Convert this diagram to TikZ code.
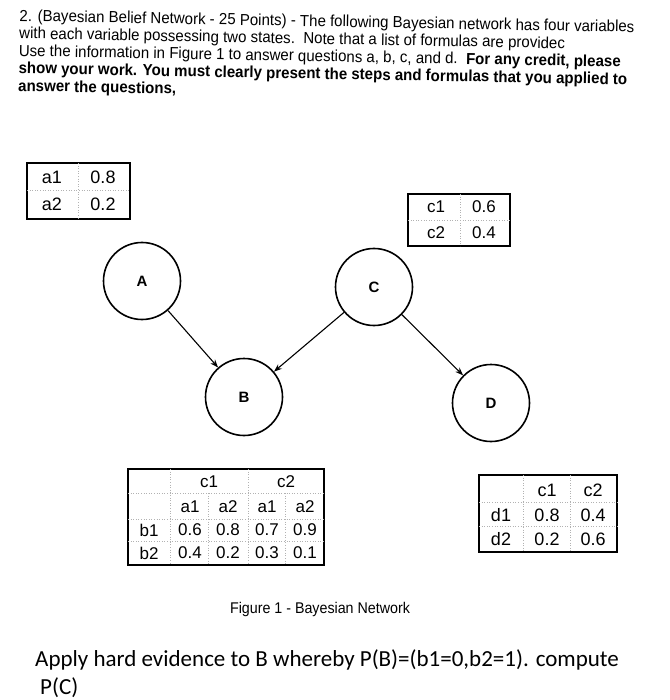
\documentclass[tikz,border=0pt]{standalone}
\usepackage{fontspec}
\setmainfont{Liberation Sans}
\newfontfamily\headfont[FakeStretch=0.94]{Liberation Sans}
\newfontfamily\capfont[FakeStretch=0.92]{Liberation Sans}
\newfontfamily\notefont{Carlito}
\usetikzlibrary{arrows.meta}

\tikzset{
  bnnode/.style={circle, draw, line width=1.6pt, minimum size=77pt, inner sep=0pt,
    font=\bfseries\fontsize{15}{15}\selectfont},
  bnarrow/.style={-{Stealth[length=8pt, width=6pt]}, line width=1.1pt},
  cptbox/.style={draw, line width=1.2pt},
  cptgrid/.style={gray!60, dotted, line width=0.6pt},
  cpt/.style={inner sep=0pt, font=\fontsize{17}{17}\selectfont},
  bigcpt/.style={cpt, font=\fontsize{18}{18}\selectfont},
  headtext/.style={anchor=base west, inner sep=0pt, rotate=-1.05, align=left,
    font=\headfont\fontsize{16}{17.5}\selectfont},
  noteline/.style={anchor=base west, inner sep=0pt, font=\notefont\fontsize{23}{23}\selectfont},
}

\begin{document}
\begin{tikzpicture}[x=1pt, y=-1pt]

\useasboundingbox (0,0) rectangle (669,700);

% Question text (base anchor sits on the last line)
\node[headtext] (head) at (18,91) {2. (Bayesian Belief Network - 25 Points) - The following Bayesian network has four variables\\
  with each variable possessing two states.\ \ Note that a list of formulas are providec\\
  Use the information in Figure 1 to answer questions a, b, c, and d.\ \ \textbf{For any credit, please}\\
  \textbf{show your work. You must clearly present the steps and formulas that you applied to}\\
  \textbf{answer the questions,}};

% Network nodes
\node[bnnode] (A) at (142,281) {A};
\node[bnnode] (B) at (244,397) {B};
\node[bnnode] (C) at (374,287) {C};
\node[bnnode] (D) at (491,403) {D};

% Edges
\draw[bnarrow] (A) -- (B);
\draw[bnarrow] (C) -- (B);
\draw[bnarrow] (C) -- (D);

% Table for A
\draw[cptbox] (27,163) rectangle (130,219);
\draw[cptgrid] (78,163) -- (78,219) (27,190) -- (130,190);
\foreach \t/\x/\y [count=\i] in {a1/52/177, 0.8/103/177, a2/52/204, 0.2/103/204}
  \node[bigcpt] (ta\i) at (\x,\y) {\t};

% Table for C
\draw[cptbox] (408,194) rectangle (510,246);
\draw[cptgrid] (460,194) -- (460,246) (408,220) -- (510,220);
\foreach \t/\x/\y [count=\i] in {c1/436/207, 0.6/484/207, c2/436/233, 0.4/484/233}
  \node[cpt] (tc\i) at (\x,\y) {\t};

% Table for B
\draw[cptbox] (128,469) rectangle (324,565);
\draw[cptgrid] (170,469) -- (170,565) (248,469) -- (248,565)
  (208,493) -- (208,565) (285,493) -- (285,565)
  (128,493) -- (324,493) (128,519) -- (324,519) (128,541) -- (324,541);
\foreach \t/\x/\y [count=\i] in {c1/209/482, c2/286/482,
    a1/190/507, a2/228/507, a1/267/507, a2/305/507,
    b1/149/530, 0.6/190/530, 0.8/228/530, 0.7/267/530, 0.9/305/530,
    b2/149/553, 0.4/190/553, 0.2/228/553, 0.3/267/553, 0.1/305/553}
  \node[cpt] (tb\i) at (\x,\y) {\t};

% Table for D
\draw[cptbox] (479,475) rectangle (617,552);
\draw[cptgrid] (523,475) -- (523,552) (570,475) -- (570,552)
  (479,502) -- (617,502) (479,526) -- (617,526);
\foreach \t/\x/\y [count=\i] in {c1/547/490, c2/593/490,
    d1/501/515, 0.8/547/515, 0.4/593/515,
    d2/501/539, 0.2/547/539, 0.6/593/539}
  \node[bigcpt] (td\i) at (\x,\y) {\t};

% Caption
\node[anchor=base, inner sep=0pt, font=\capfont\fontsize{15.5}{15.5}\selectfont] (caption) at (320,613) {Figure 1 - Bayesian Network};

% Question
\node[noteline] (note1) at (35,666) {Apply hard evidence to B whereby P(B)=(b1=0,b2=1). compute};
\node[noteline] (note2) at (40,694) {P(C)};

\end{tikzpicture}
\end{document}
